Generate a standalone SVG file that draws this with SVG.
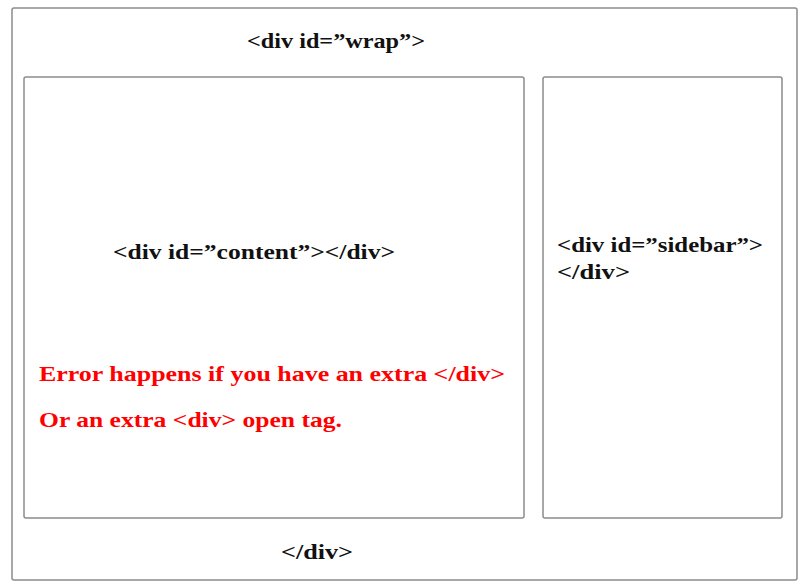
<svg xmlns="http://www.w3.org/2000/svg" width="811" height="588" viewBox="0 0 811 588">
<style>
rect{fill:#fff;stroke:#8c8c8c;stroke-width:1.5}
text{font-family:"Liberation Serif",serif;font-weight:bold;font-size:21px;fill:#111}
.r{fill:#f00}
</style>
<rect x="0" y="0" width="811" height="588" style="stroke:none"/>
<g id="wrap"><rect x="12" y="8" width="785" height="572" rx="2"/>
<text x="247" y="48" textLength="178" lengthAdjust="spacingAndGlyphs">&lt;div id=”wrap”&gt;</text>
<text x="281" y="559" textLength="72" lengthAdjust="spacingAndGlyphs">&lt;/div&gt;</text></g>
<g id="content"><rect x="24" y="77" width="500" height="441" rx="2"/>
<text x="113" y="259" textLength="282" lengthAdjust="spacingAndGlyphs">&lt;div id=”content”&gt;&lt;/div&gt;</text>
<text x="39" y="381" class="r" textLength="466" lengthAdjust="spacingAndGlyphs">Error happens if you have an extra &lt;/div&gt;</text>
<text x="39" y="427" class="r" textLength="303" lengthAdjust="spacingAndGlyphs">Or an extra &lt;div&gt; open tag.</text></g>
<g id="sidebar"><rect x="543" y="77" width="239" height="441" rx="2"/>
<text x="557" y="252" textLength="206" lengthAdjust="spacingAndGlyphs">&lt;div id=”sidebar”&gt;</text>
<text x="557" y="279" textLength="73" lengthAdjust="spacingAndGlyphs">&lt;/div&gt;</text></g>
<g id="connectors"/>
</svg>
